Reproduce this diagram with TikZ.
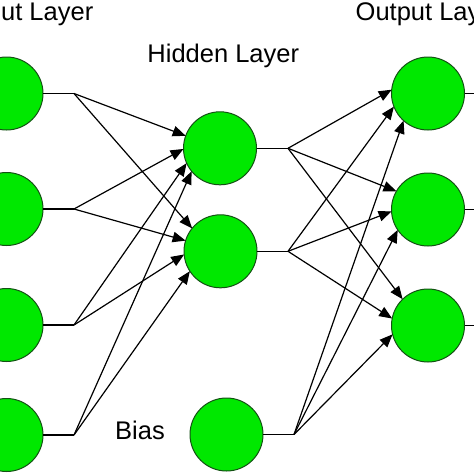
\documentclass[tikz,border=0pt]{standalone}
\usepackage{fontspec}
\setmainfont{Liberation Sans}
\usetikzlibrary{arrows.meta}
\definecolor{nodegreen}{RGB}{0,232,0}
\definecolor{nodeedge}{RGB}{20,80,20}
\begin{document}
\begin{tikzpicture}[x=1pt,y=-1pt,
  neuron/.style={circle,fill=nodegreen,draw=nodeedge,line width=1pt,minimum size=73pt,inner sep=0pt,outer sep=0pt},
  wire/.style={draw=black,line width=1.2pt},
  feed/.style={draw=black,line width=1.2pt,-{Triangle[length=13pt,width=10.5pt]}},
  lbl/.style={font=\fontsize{25.5}{30}\selectfont,inner sep=0pt}]
\clip (0,0) rectangle (474,474);
\fill[white] (0,0) rectangle (474,474);
% input layer
\node[neuron] (in1) at (6.5,93.5) {};
\node[neuron] (in2) at (6.5,209) {};
\node[neuron] (in3) at (6.5,325) {};
\node[neuron] (in4) at (6.5,435) {};
% hidden layer
\node[neuron] (h1) at (220,148.3) {};
\node[neuron] (h2) at (220.5,251.3) {};
\node[neuron] (hb) at (226.5,434.5) {};
% output layer
\node[neuron] (o1) at (428,93.5) {};
\node[neuron] (o2) at (428,209.5) {};
\node[neuron] (o3) at (428,325.5) {};
% fork points
\coordinate (f1) at (74,93.5);
\coordinate (f2) at (74,209);
\coordinate (f3) at (74,325);
\coordinate (f4) at (74,435);
\coordinate (g1) at (288,148.3);
\coordinate (g2) at (288,251.3);
\coordinate (gb) at (294,434.5);
\coordinate (e1) at (480,93.5);
\coordinate (e2) at (480,209.5);
\coordinate (e3) at (480,325.5);
% stubs
\draw[wire] (in1) -- (f1);
\draw[wire] (in2) -- (f2);
\draw[wire] (in3) -- (f3);
\draw[wire] (in4) -- (f4);
\draw[wire] (h1) -- (g1);
\draw[wire] (h2) -- (g2);
\draw[wire] (hb) -- (gb);
\draw[wire] (o1) -- (e1);
\draw[wire] (o2) -- (e2);
\draw[wire] (o3) -- (e3);
% input -> hidden
\draw[feed] (f1) -- (h1.160);
\draw[feed] (f1) -- (h2.141);
\draw[feed] (f2) -- (h1.181.6);
\draw[feed] (f2) -- (h2.163);
\draw[feed] (f3) -- (h1.204.5);
\draw[feed] (f3) -- (h2.185.7);
\draw[feed] (f4) -- (h1.219.8);
\draw[feed] (f4) -- (h2.213.7);
% hidden -> output
\draw[feed] (g1) -- (o1.174.7);
\draw[feed] (g1) -- (o2.150.7);
\draw[feed] (g1) -- (o3.134);
\draw[feed] (g2) -- (o1.201.3);
\draw[feed] (g2) -- (o2.183.3);
\draw[feed] (g2) -- (o3.169.3);
\draw[feed] (gb) -- (o1.228.8);
\draw[feed] (gb) -- (o2.214.5);
\draw[feed] (gb) -- (o3.194);
% labels
\node[lbl,anchor=base east] (tin) at (93.5,20.5) {Input Layer};
\node[lbl,anchor=base] (thid) at (223.3,62.7) {Hidden Layer};
\node[lbl,anchor=base west] (tout) at (355.5,20.7) {Output Layer};
\node[lbl,anchor=base west] (tbias) at (115,439.3) {Bias};
\end{tikzpicture}
\end{document}
